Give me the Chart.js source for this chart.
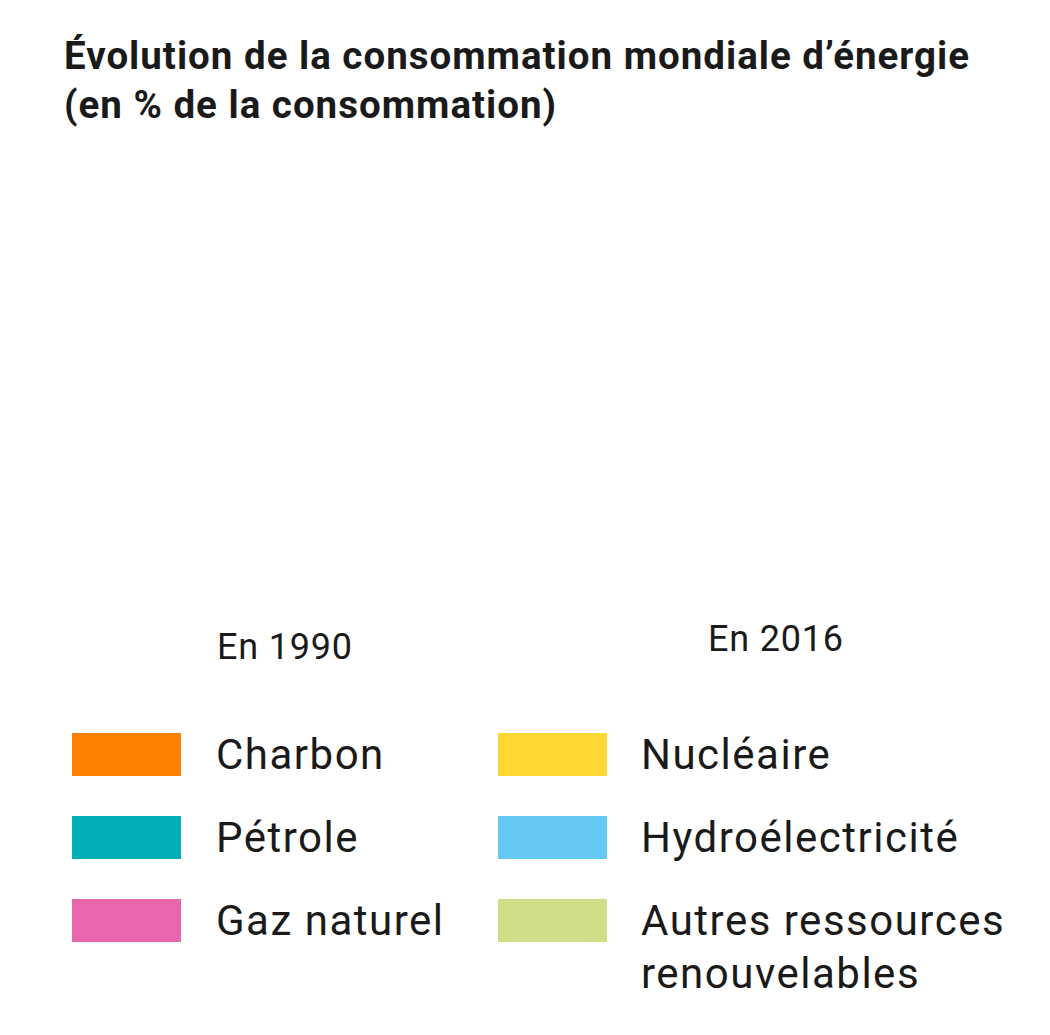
<!DOCTYPE html>
<html lang="fr">
<head>
<meta charset="utf-8">
<title>Évolution de la consommation mondiale d'énergie</title>
<script src="https://cdn.jsdelivr.net/npm/chart.js@4/dist/chart.umd.min.js"></script>
<style>
    body { margin: 0; background: #fff; font-family: Roboto, "Noto Sans", sans-serif; color: #1a1a1a; }
    #page { position: relative; width: 1050px; height: 1035px; overflow: hidden; }
    #titre { position: absolute; left: 64px; top: 31px; font-size: 38.5px; font-weight: 700; line-height: 49px; letter-spacing: 1px; margin: 0; white-space: nowrap; }
    .camembert { position: absolute; top: 150px; width: 440px; height: 440px; }
    .annee { position: absolute; font-size: 36px; line-height: 40px; letter-spacing: 0.8px; }
    .case { position: absolute; width: 109px; height: 43px; }
    .libelle { position: absolute; font-size: 42px; line-height: 53px; letter-spacing: 1.5px; width: 420px; }
</style>
</head>
<body>
<div id="page">
    <h1 id="titre">Évolution de la consommation mondiale d’énergie<br>(en % de la consommation)</h1>
    <div class="camembert" style="left:65px"><canvas id="graphique1990"></canvas></div>
    <div class="camembert" style="left:555px"><canvas id="graphique2016"></canvas></div>
    <div class="annee" style="left:217px; top:627px">En 1990</div>
    <div class="annee" style="left:708px; top:619px">En 2016</div>
    <div id="legende"></div>
</div>
<script>
// Sources d'énergie (ordre de la légende)
const categories = ['Charbon', 'Pétrole', 'Gaz naturel', 'Nucléaire', 'Hydroélectricité', 'Autres ressources renouvelables'];
const couleurs = ['#fd8102', '#00afb7', '#e867ac', '#ffd833', '#63c8f2', '#d1de88'];

// Valeurs: aucune part n'est dessinée dans l'image de référence
const valeurs1990 = [];
const valeurs2016 = [];

// Génère un camembert
function creaCamembert(id, valeurs) {
    const ctx = document.getElementById(id).getContext('2d');
    new Chart(ctx, {
        type: 'pie',
        data: {
            labels: categories,
            datasets: [{
                data: valeurs,
                backgroundColor: couleurs,
                borderColor: '#ffffff',
                borderWidth: 2
            }]
        },
        options: {
            responsive: true,
            maintainAspectRatio: false,
            animation: false,
            plugins: {
                legend: { display: false },
                tooltip: { enabled: false }
            }
        }
    });
}

creaCamembert('graphique1990', valeurs1990);
creaCamembert('graphique2016', valeurs2016);

// Légende en deux colonnes
const legende = document.getElementById('legende');
categories.forEach((nom, i) => {
    const colonne = Math.floor(i / 3);
    const ligne = i % 3;
    const x = 72 + colonne * 426;
    const y = 733 + ligne * 83;

    const caseCouleur = document.createElement('div');
    caseCouleur.className = 'case';
    caseCouleur.style.left = x + 'px';
    caseCouleur.style.top = y + 'px';
    caseCouleur.style.background = couleurs[i];
    legende.appendChild(caseCouleur);

    const libelle = document.createElement('div');
    libelle.className = 'libelle';
    libelle.style.left = (x + 144 - colonne) + 'px';
    libelle.style.top = (y + 22 - 27) + 'px';
    libelle.textContent = nom;
    if (i === 5) libelle.innerHTML = 'Autres ressources<br>renouvelables';
    legende.appendChild(libelle);
});
</script>
</body>
</html>
